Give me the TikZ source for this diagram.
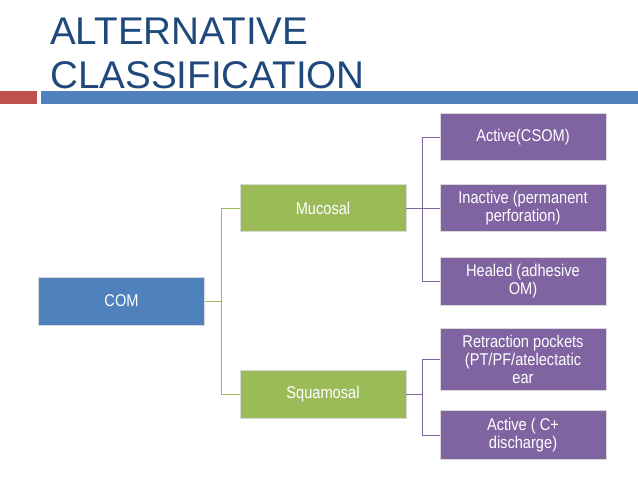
\documentclass[tikz,border=0pt]{standalone}
\usepackage{fontspec}
\setmainfont{Liberation Sans}
\newfontfamily\narrowf{Liberation Sans}[FakeStretch=0.86]
\definecolor{tblue}{HTML}{1F497D}
\definecolor{bblue}{HTML}{4F81BD}
\definecolor{bgreen}{HTML}{9BBB59}
\definecolor{bpurp}{HTML}{8064A2}
\definecolor{bred}{HTML}{C0504D}
\begin{document}
\begin{tikzpicture}[x=1pt,y=-1pt,
  box/.style={draw=white!85!black,line width=0.6pt,minimum width=166pt,text=white,font=\narrowf\fontsize{17}{18}\selectfont,align=center,inner sep=1pt},
  gl/.style={draw=bgreen,line width=0.9pt},
  pl/.style={draw=bpurp,line width=0.9pt}]
\useasboundingbox (0,0) rectangle (638,479);
\fill[white] (0,0) rectangle (638,479);
\node[anchor=base west,text=tblue,font=\fontsize{38.6}{40}\selectfont,inner sep=0] (t1) at (50,45) {ALTERNATIVE};
\node[anchor=base west,text=tblue,font=\fontsize{38.6}{40}\selectfont,inner sep=0] (t2) at (50,88) {CLASSIFICATION};
\fill[bred] (0,91) rectangle (37,104);
\fill[bblue] (41,91) rectangle (638,104);
\node[box,fill=bblue,minimum height=48pt] (com) at (121.5,301) {COM};
\node[box,fill=bgreen,minimum height=47pt] (muc) at (323,208) {Mucosal};
\node[box,fill=bgreen,minimum height=48pt] (squ) at (323,394) {Squamosal};
\node[box,fill=bpurp,minimum height=47pt] (p1) at (523,137) {Active(CSOM)};
\node[box,fill=bpurp,minimum height=47pt] (p2) at (523,208) {Inactive (permanent\\perforation)};
\node[box,fill=bpurp,minimum height=48pt] (p3) at (523,281) {Healed (adhesive\\OM)};
\node[box,fill=bpurp,minimum height=62pt] (p4) at (523,359) {Retraction pockets\\(PT/PF/atelectatic\\ear};
\node[box,fill=bpurp,minimum height=49pt] (p5) at (523,435) {Active ( C+\\discharge)};
\draw[gl] (com.east) -- ++(17,0) coordinate (c1);
\draw[gl] (muc.west) -| (c1) |- (squ.west);
\draw[pl] (muc.east) -- ++(16,0) coordinate (m1);
\draw[pl] (p1.west) -| (m1) |- (p3.west);
\draw[pl] (m1) -- (p2.west);
\draw[pl] (squ.east) -- ++(16,0) coordinate (s1);
\draw[pl] (p4.west) -| (s1) |- (p5.west);
\end{tikzpicture}
\end{document}
